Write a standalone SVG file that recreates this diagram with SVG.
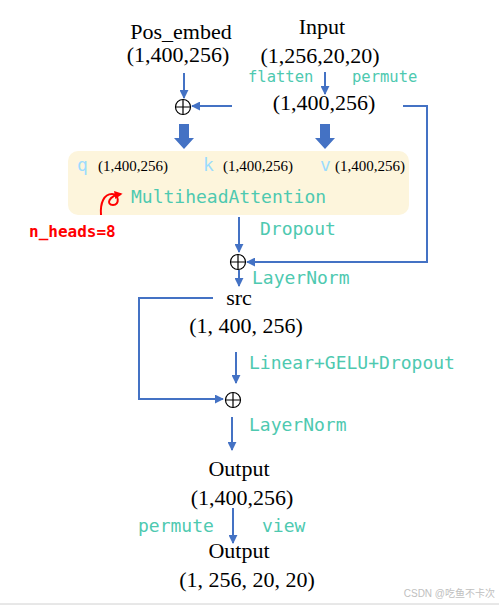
<svg xmlns="http://www.w3.org/2000/svg" width="499" height="605" viewBox="0 0 499 605">
<style>
.t{font-family:"Liberation Serif","Times New Roman",serif;font-size:22px;fill:#000}
.ts{font-family:"Liberation Serif","Times New Roman",serif;font-size:15px;fill:#000}
.m{font-family:"DejaVu Sans Mono","Liberation Mono",monospace;fill:#4ec9b0}
.m16{font-size:15.5px}
.m18{font-size:18px}
.qkv{font-family:"DejaVu Sans Mono","Liberation Mono",monospace;font-size:18px;fill:#9cdcfe}
.ln{stroke:#4472c4;stroke-width:2;fill:none}
.arr{marker-end:url(#ah)}
.plus circle{fill:none;stroke:#000;stroke-width:1.2}
.plus path{stroke:#000;stroke-width:1.2}
.blk{fill:#4472c4}
</style>
<defs>
<marker id="ah" viewBox="0 0 10 10" refX="9" refY="5" markerWidth="4.5" markerHeight="4.5" orient="auto" markerUnits="strokeWidth">
<path d="M0,0 L10,5 L0,10 z" fill="#4472c4"/>
</marker>
<marker id="rh" viewBox="0 0 10 10" refX="8" refY="5" markerWidth="4" markerHeight="4" orient="auto" markerUnits="strokeWidth">
<path d="M0,0 L10,5 L0,10 z" fill="#ff0000"/>
</marker>
</defs>
<rect width="499" height="605" fill="#fff"/>

<g id="pos_embed">
<text class="t" x="181" y="39" text-anchor="middle">Pos_embed</text>
<text class="t" x="178" y="62" text-anchor="middle">(1,400,256)</text>
</g>
<g id="input">
<text class="t" x="322" y="34" text-anchor="middle">Input</text>
<text class="t" x="320" y="63" text-anchor="middle">(1,256,20,20)</text>
</g>
<g id="flatten_label">
<text class="m m16" x="248" y="82">flatten</text>
<text class="m m16" x="352" y="82">permute</text>
</g>
<g id="flat_shape">
<text class="t" x="324" y="110" text-anchor="middle">(1,400,256)</text>
</g>
<g id="add1" class="plus">
<circle cx="183" cy="107" r="7.5"/>
<path d="M175.5,107 H190.5 M183,99.5 V114.5"/>
</g>

<g id="attention">
<rect x="68" y="151" width="341" height="64" rx="10" fill="#fdf5dc"/>
<text class="qkv" x="77" y="171">q</text>
<text class="ts" x="98" y="171">(1,400,256)</text>
<text class="qkv" x="203" y="171">k</text>
<text class="ts" x="223" y="171">(1,400,256)</text>
<text class="qkv" x="320" y="171">v</text>
<text class="ts" x="335" y="171">(1,400,256)</text>
<text class="m m18" x="131" y="203">MultiheadAttention</text>
</g>
<g id="n_heads">
<text x="29" y="237" font-family="'DejaVu Sans Mono','Liberation Mono',monospace" font-size="16px" font-weight="bold" fill="#ff0000">n_heads=8</text>
<path d="M101,215 C100,203 104,194 112,194 C119,194 120,205 113,205 C106,205 108,196 121,194" fill="none" stroke="#ff0000" stroke-width="2" marker-end="url(#rh)"/>
</g>

<g id="dropout_label">
<text class="m m18" x="260" y="235">Dropout</text>
</g>
<g id="add2" class="plus">
<circle cx="238" cy="262" r="7.5"/>
<path d="M230.5,262 H245.5 M238,254.5 V269.5"/>
</g>
<g id="layernorm1">
<text class="m m18" x="252" y="284">LayerNorm</text>
</g>
<g id="src">
<text class="t" x="239" y="305" text-anchor="middle">src</text>
<text class="t" x="246" y="333" text-anchor="middle">(1, 400, 256)</text>
</g>
<g id="ffn_label">
<text class="m m18" x="249" y="369">Linear+GELU+Dropout</text>
</g>
<g id="add3" class="plus">
<circle cx="233" cy="400" r="7.5"/>
<path d="M225.5,400 H240.5 M233,392.5 V407.5"/>
</g>
<g id="layernorm2">
<text class="m m18" x="249" y="431">LayerNorm</text>
</g>
<g id="output1">
<text class="t" x="239" y="476" text-anchor="middle">Output</text>
<text class="t" x="242" y="505" text-anchor="middle">(1,400,256)</text>
</g>
<g id="reshape_label">
<text class="m m18" x="138" y="532">permute</text>
<text class="m m18" x="262" y="532">view</text>
</g>
<g id="output2">
<text class="t" x="239" y="558" text-anchor="middle">Output</text>
<text class="t" x="247" y="587" text-anchor="middle">(1, 256, 20, 20)</text>
</g>

<g id="connectors">
<path class="ln arr" d="M184,73 V98"/>
<path class="ln arr" d="M232,106 H192"/>
<path class="ln arr" d="M325,72 V94"/>
<path class="blk" d="M179,124 H189 V138 H194 L184,149 L174,138 H179 Z"/>
<path class="blk" d="M320,124 H330 V138 H335 L325,149 L315,138 H320 Z"/>
<path class="ln arr" d="M403,106 H427 V262 H247"/>
<path class="ln arr" d="M239,217 V252"/>
<path class="ln arr" d="M239,270 V286"/>
<path class="ln arr" d="M213,298 H139 V399 H223"/>
<path class="ln arr" d="M236,352 V383"/>
<path class="ln arr" d="M232,417 V450"/>
<path class="ln arr" d="M233,508 V543"/>
</g>

<text x="495" y="597" text-anchor="end" font-family="'Liberation Sans','Noto Sans CJK SC',sans-serif" font-size="10px" fill="#c0c0c0">CSDN @吃鱼不卡次</text>
<line x1="0" y1="604" x2="499" y2="604" stroke="#d0d0d0" stroke-width="1"/>
</svg>
